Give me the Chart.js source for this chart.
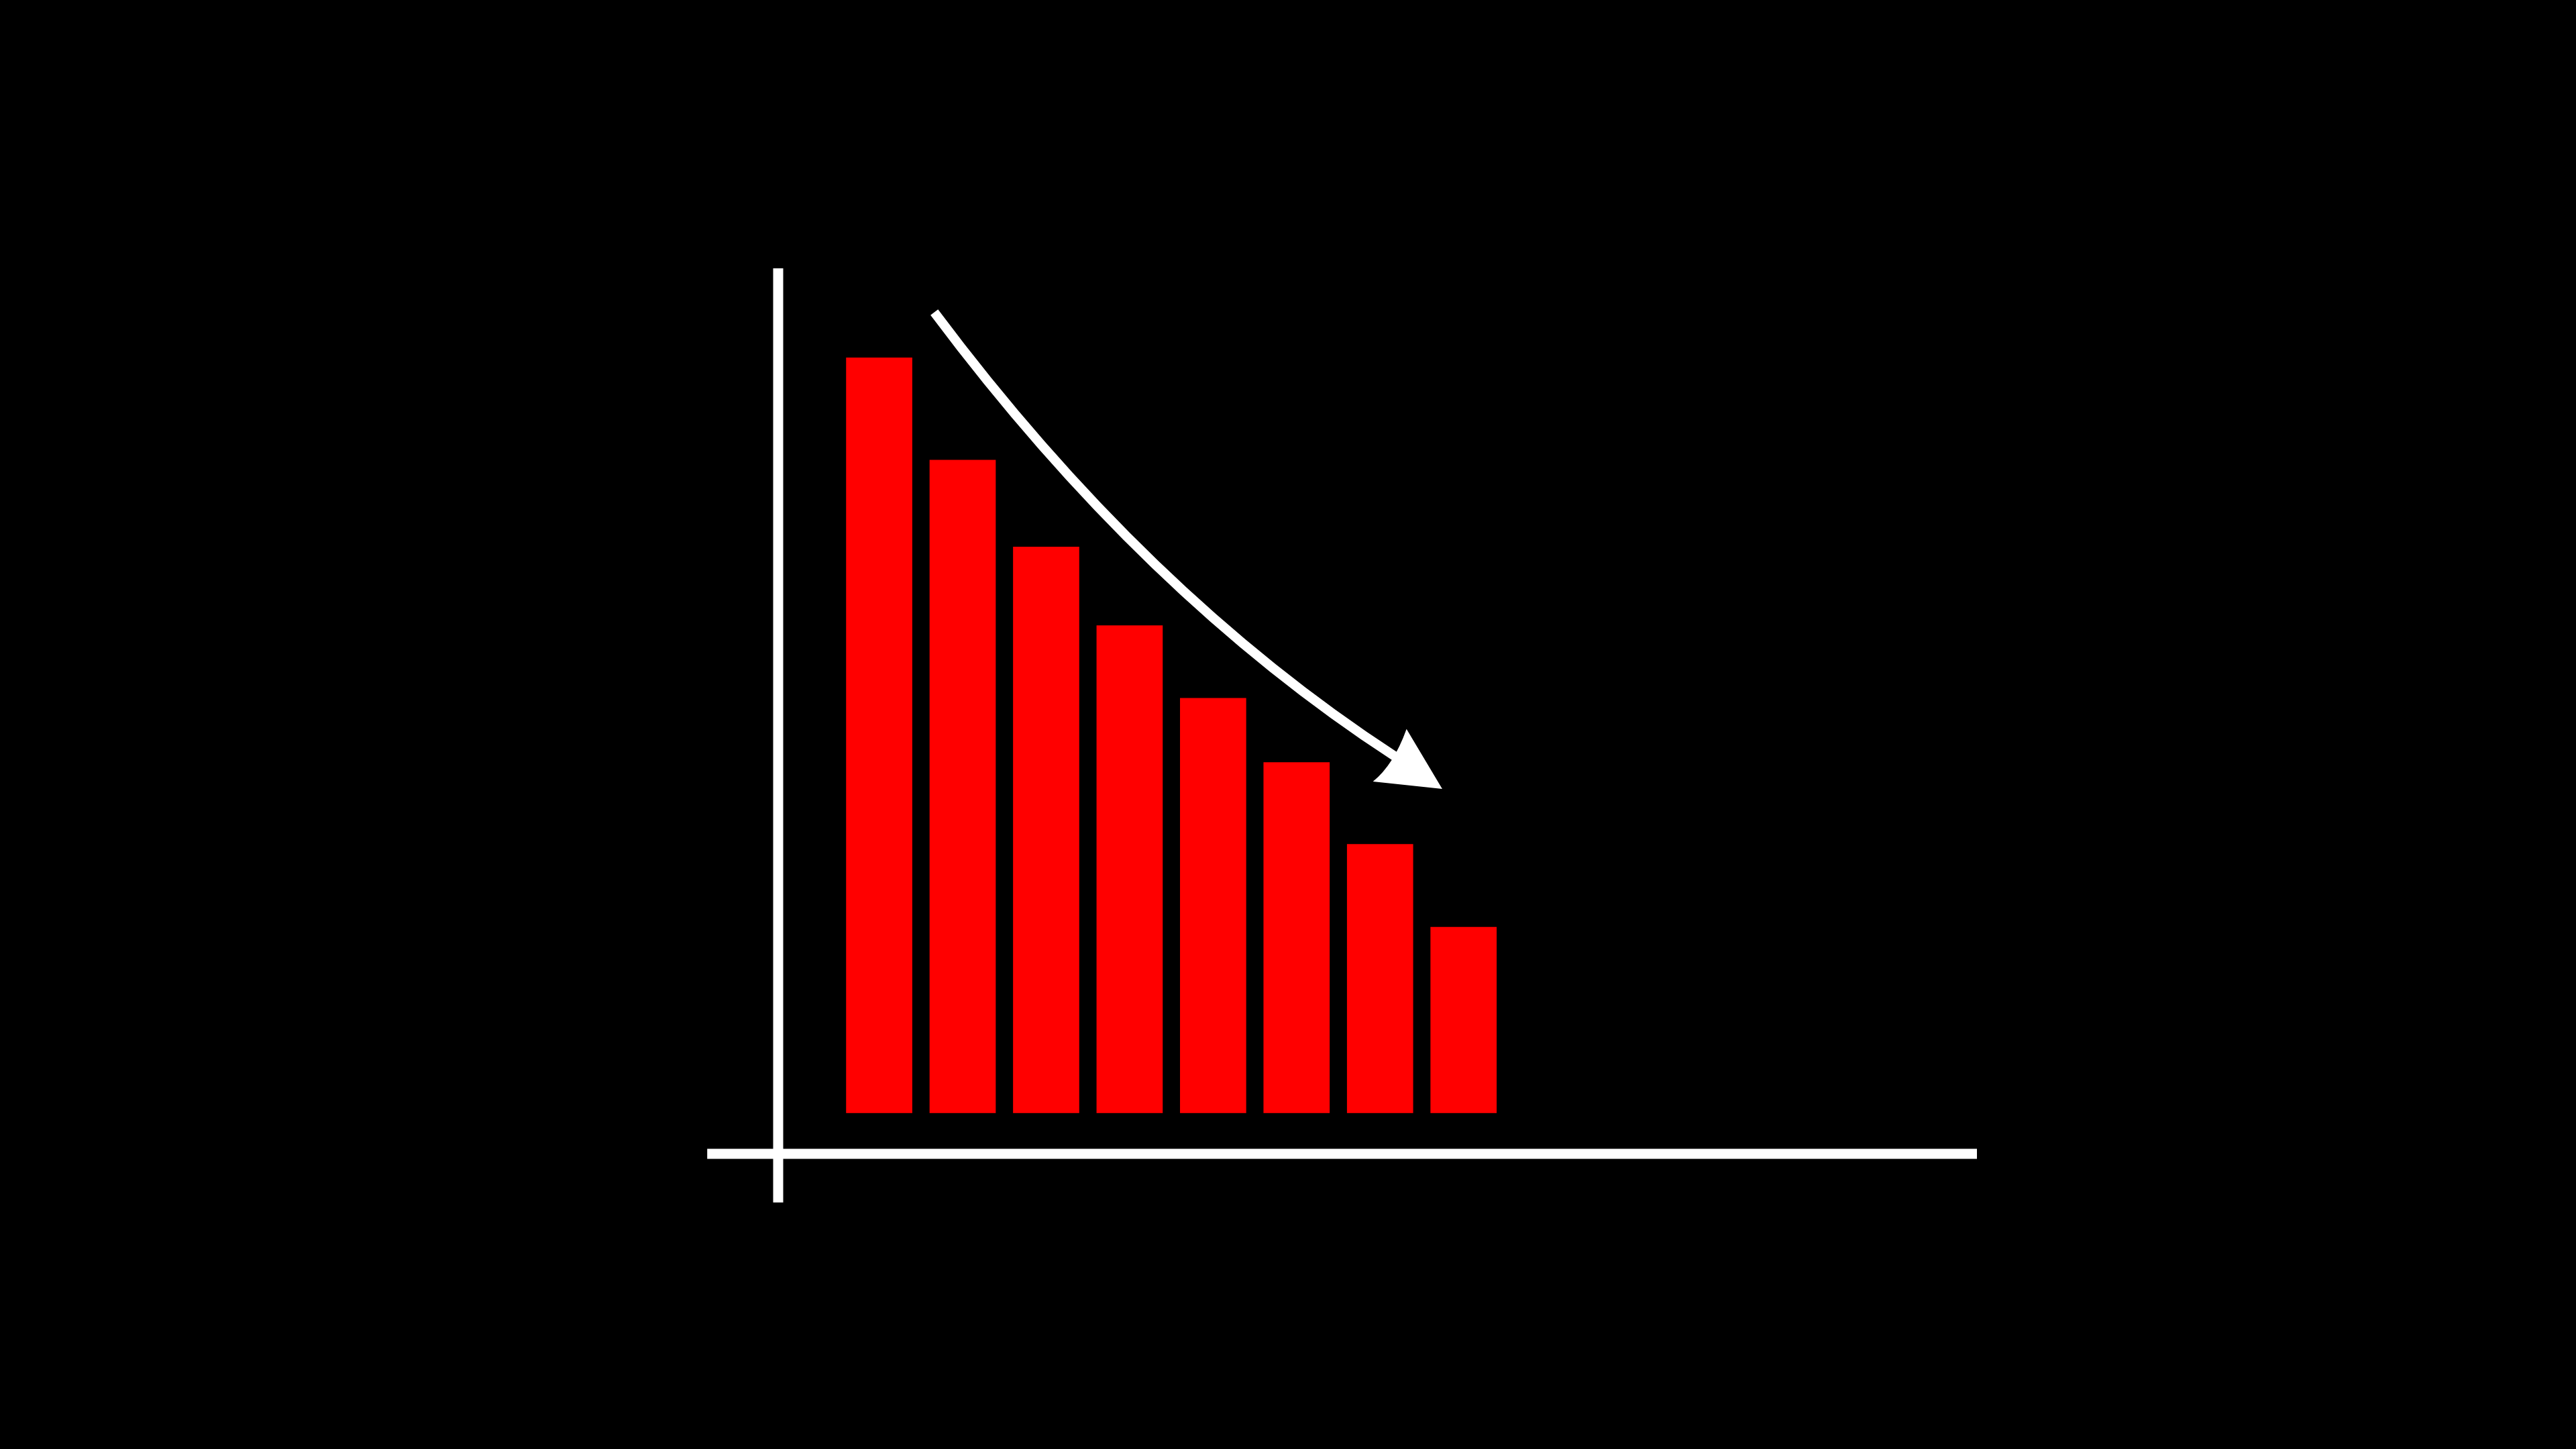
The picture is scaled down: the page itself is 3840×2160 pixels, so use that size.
<!DOCTYPE html>
<html>
<head>
<meta charset="utf-8">
<script src="https://cdn.jsdelivr.net/npm/chart.js@4.4.1/dist/chart.umd.min.js"></script>
<style>
  html, body { margin: 0; padding: 0; background: #000000; }
  canvas { display: block; }
</style>
</head>
<body>
<canvas id="c" width="3840" height="2160" style="width:3840px;height:2160px"></canvas>
<script>
// ---- data ----
const categories = [1, 2, 3, 4, 5, 6, 7, 8];
const values = [89.4, 77.3, 67.0, 57.7, 49.1, 41.5, 31.8, 22.0];

// scale ranges (data units)
const xRange = [-0.21, 14.15];
const yRange = [-4.85, 100];

// where the axis lines start beyond the crossing (data units)
const axisStart = [-1.06, -10.6];

// trend arrow, in data units: shaft [start, control, end]
const arrowShaft = [[1.66, 94.8], [4.18, 61.5], [7.18, 42.2]];
// arrow head: tip, upper corner, notch control, lower corner
const arrowHead = [[7.745, 38.36], [7.317, 45.46], [7.164, 41.24], [6.915, 39.24]];

const decorPlugin = {
  id: 'decor',
  afterDatasetsDraw(chart) {
    const ctx = chart.ctx;
    const xs = chart.scales.x, ys = chart.scales.y;
    const P = (pt) => [xs.getPixelForValue(pt[0]), ys.getPixelForValue(pt[1])];
    ctx.save();
    ctx.strokeStyle = '#ffffff';
    ctx.fillStyle = '#ffffff';
    ctx.lineCap = 'butt';
    ctx.lineWidth = 15;
    // x axis
    const yBase = ys.getPixelForValue(yRange[0]);
    ctx.beginPath();
    ctx.moveTo(xs.getPixelForValue(axisStart[0]), yBase);
    ctx.lineTo(xs.getPixelForValue(xRange[1]), yBase);
    ctx.stroke();
    // y axis
    const xBase = xs.getPixelForValue(xRange[0]);
    ctx.beginPath();
    ctx.moveTo(xBase, ys.getPixelForValue(axisStart[1]));
    ctx.lineTo(xBase, ys.getPixelForValue(yRange[1]));
    ctx.stroke();
    // arrow shaft
    const s0 = P(arrowShaft[0]), s1 = P(arrowShaft[1]), s2 = P(arrowShaft[2]);
    ctx.lineWidth = 14;
    ctx.beginPath();
    ctx.moveTo(s0[0], s0[1]);
    ctx.quadraticCurveTo(s1[0], s1[1], s2[0], s2[1]);
    ctx.stroke();
    // arrow head
    const h0 = P(arrowHead[0]), h1 = P(arrowHead[1]), h2 = P(arrowHead[2]), h3 = P(arrowHead[3]);
    ctx.beginPath();
    ctx.moveTo(h0[0], h0[1]);
    ctx.lineTo(h1[0], h1[1]);
    ctx.quadraticCurveTo(h2[0], h2[1], h3[0], h3[1]);
    ctx.closePath();
    ctx.fill();
    ctx.restore();
  }
};

new Chart(document.getElementById('c'), {
  type: 'bar',
  data: {
    datasets: [{
      data: categories.map((c, i) => ({ x: c, y: values[i] })),
      backgroundColor: '#ff0000',
      borderWidth: 0,
      barThickness: 98
    }]
  },
  options: {
    responsive: false,
    animation: false,
    devicePixelRatio: 1,
    layout: { padding: { left: 1160, right: 893, top: 400, bottom: 440 } },
    plugins: { legend: { display: false }, tooltip: { enabled: false } },
    scales: {
      x: { type: 'linear', display: false, offset: false, grid: { offset: false }, min: xRange[0], max: xRange[1] },
      y: { type: 'linear', display: false, min: yRange[0], max: yRange[1] }
    }
  },
  plugins: [decorPlugin]
});
</script>
</body>
</html>
